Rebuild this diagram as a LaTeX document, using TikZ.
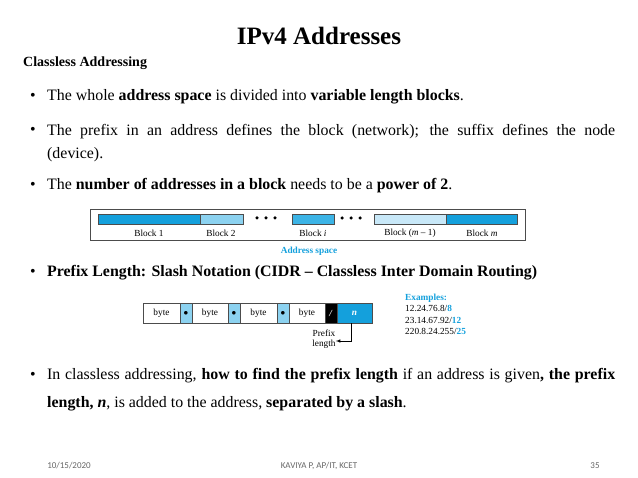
\documentclass[tikz,border=0pt]{standalone}
\usepackage{fontspec}
\setmainfont{Liberation Serif}
\newfontfamily\foot{Carlito}
\definecolor{bblue}{RGB}{20,160,220}
\definecolor{lblue}{RGB}{140,210,240}
\definecolor{vlblue}{RGB}{200,232,248}
\definecolor{mblue}{RGB}{60,180,230}
\begin{document}
\begin{tikzpicture}[x=1pt,y=-1pt,
  txt/.style={anchor=base west,inner sep=0,font=\fontsize{15.9}{23}\selectfont},
  bul/.style={anchor=base west,inner sep=0,font=\fontsize{15.9}{23}\selectfont},
  small/.style={inner sep=0,font=\fontsize{9.3}{10.5}\selectfont},
  bar/.style={draw=black!70,line width=0.6pt},
  dotn/.style={circle,fill=black,inner sep=0,minimum size=3.5pt},
  cell/.style={draw=black!70,line width=0.6pt,fill=white}]
\useasboundingbox (0,0) rectangle (638,478);
\node[anchor=base,inner sep=0,font=\fontsize{25}{25}\selectfont\bfseries] (title) at (319,45) {IPv4 Addresses};
\node[txt,font=\fontsize{14}{16}\selectfont\bfseries] (h) at (23,67) {Classless Addressing};
\foreach \n/\y in {b1/101,b2/135,b3/190,b4/277,b5/380}{\node[bul] (\n) at (30,\y) {•};}
\node[txt] (t1) at (47,101) {The whole \textbf{address space} is divided into \textbf{variable length blocks}.};
\node[txt,anchor=north west,text width=568pt,align=justify] (t2) at (47,124) {The prefix in an address defines the block (network); the suffix defines the node\linebreak (device).};
\node[txt] (t3) at (47,190) {The \textbf{number of addresses in a block} needs to be a \textbf{power of 2}.};
\node[txt] (t4) at (47,277) {\textbf{Prefix Length: Slash Notation (CIDR – Classless Inter Domain Routing)}};
\node[txt,anchor=north west,text width=568pt,align=justify,font=\fontsize{15.9}{28}\selectfont] (t5) at (47,368) {In classless addressing, \textbf{how to find the prefix length} if an address is given\textbf{, the prefix length, \textit{n}},  is added to the address, \textbf{separated by a slash}.};
% address space
\draw[draw=black!70,line width=0.8pt] (90,209) rectangle (525,240);
\draw[bar,fill=bblue] (98,214) rectangle (200,224);
\draw[bar,fill=lblue] (200,214) rectangle (243,224);
\draw[bar,fill=mblue] (292,214) rectangle (334,224);
\draw[bar,fill=vlblue] (374,214) rectangle (446,224);
\draw[bar,fill=bblue] (446,214) rectangle (517,224);
\foreach \x in {257,266,275,342,351,360}{\node[dotn] at (\x,218) {};}
\node[small] (l1) at (149,233) {Block 1};
\node[small] (l2) at (221,233) {Block 2};
\node[small] (l3) at (313,233) {Block \textit{i}};
\node[small] (l4) at (410,233) {Block (\textit{m} – 1)};
\node[small] (l5) at (482,233) {Block \textit{m}};
\node[small,font=\fontsize{9.3}{10}\selectfont\bfseries,text=bblue] (as) at (309,251) {Address space};
% byte diagram
\node[cell,minimum width=37pt,minimum height=20pt,small] (y1) at (161.5,313) {byte};
\node[cell,fill=lblue,minimum width=12pt,minimum height=20pt,small] (d1) at (186,313) {\textbf{$\bullet$}};
\node[cell,minimum width=36pt,minimum height=20pt,small] (y2) at (210,313) {byte};
\node[cell,fill=lblue,minimum width=12pt,minimum height=20pt,small] (d2) at (234,313) {\textbf{$\bullet$}};
\node[cell,minimum width=37pt,minimum height=20pt,small] (y3) at (258.5,313) {byte};
\node[cell,fill=lblue,minimum width=12pt,minimum height=20pt,small] (d3) at (283,313) {\textbf{$\bullet$}};
\node[cell,minimum width=36pt,minimum height=20pt,small] (y4) at (307,313) {byte};
\node[cell,fill=black,text=white,minimum width=12pt,minimum height=20pt,small] (sl) at (331,313) {\textbf{\textit{/}}};
\node[cell,fill=bblue,text=white,minimum width=35pt,minimum height=20pt,small] (n) at (354.5,313) {\textbf{\textit{n}}};
\node[small,align=center] (pl) at (324,339) {Prefix\\length};
\coordinate (c) at (351,341);
\draw[-latex,line width=0.6pt] (n.south -| c) -- (c) -- (pl.east |- c);
\node[small,anchor=base west,font=\fontsize{9.3}{10}\selectfont\bfseries,text=bblue] (e0) at (405,301) {Examples:};
\node[small,anchor=base west] (e1) at (405,312) {12.24.76.8/\textcolor{bblue}{\textbf{8}}};
\node[small,anchor=base west] (e2) at (405,324) {23.14.67.92/\textcolor{bblue}{\textbf{12}}};
\node[small,anchor=base west] (e3) at (405,335) {220.8.24.255/\textcolor{bblue}{\textbf{25}}};
% footer
\node[inner sep=0,text=black!60,font=\foot\fontsize{9}{10}\selectfont] (f1) at (69,466) {10/15/2020};
\node[inner sep=0,text=black!60,font=\foot\fontsize{9}{10}\selectfont] (f2) at (319,466) {KAVIYA P, AP/IT, KCET};
\node[inner sep=0,text=black!60,font=\foot\fontsize{9}{10}\selectfont] (f3) at (595,466) {35};
\end{tikzpicture}
\end{document}
